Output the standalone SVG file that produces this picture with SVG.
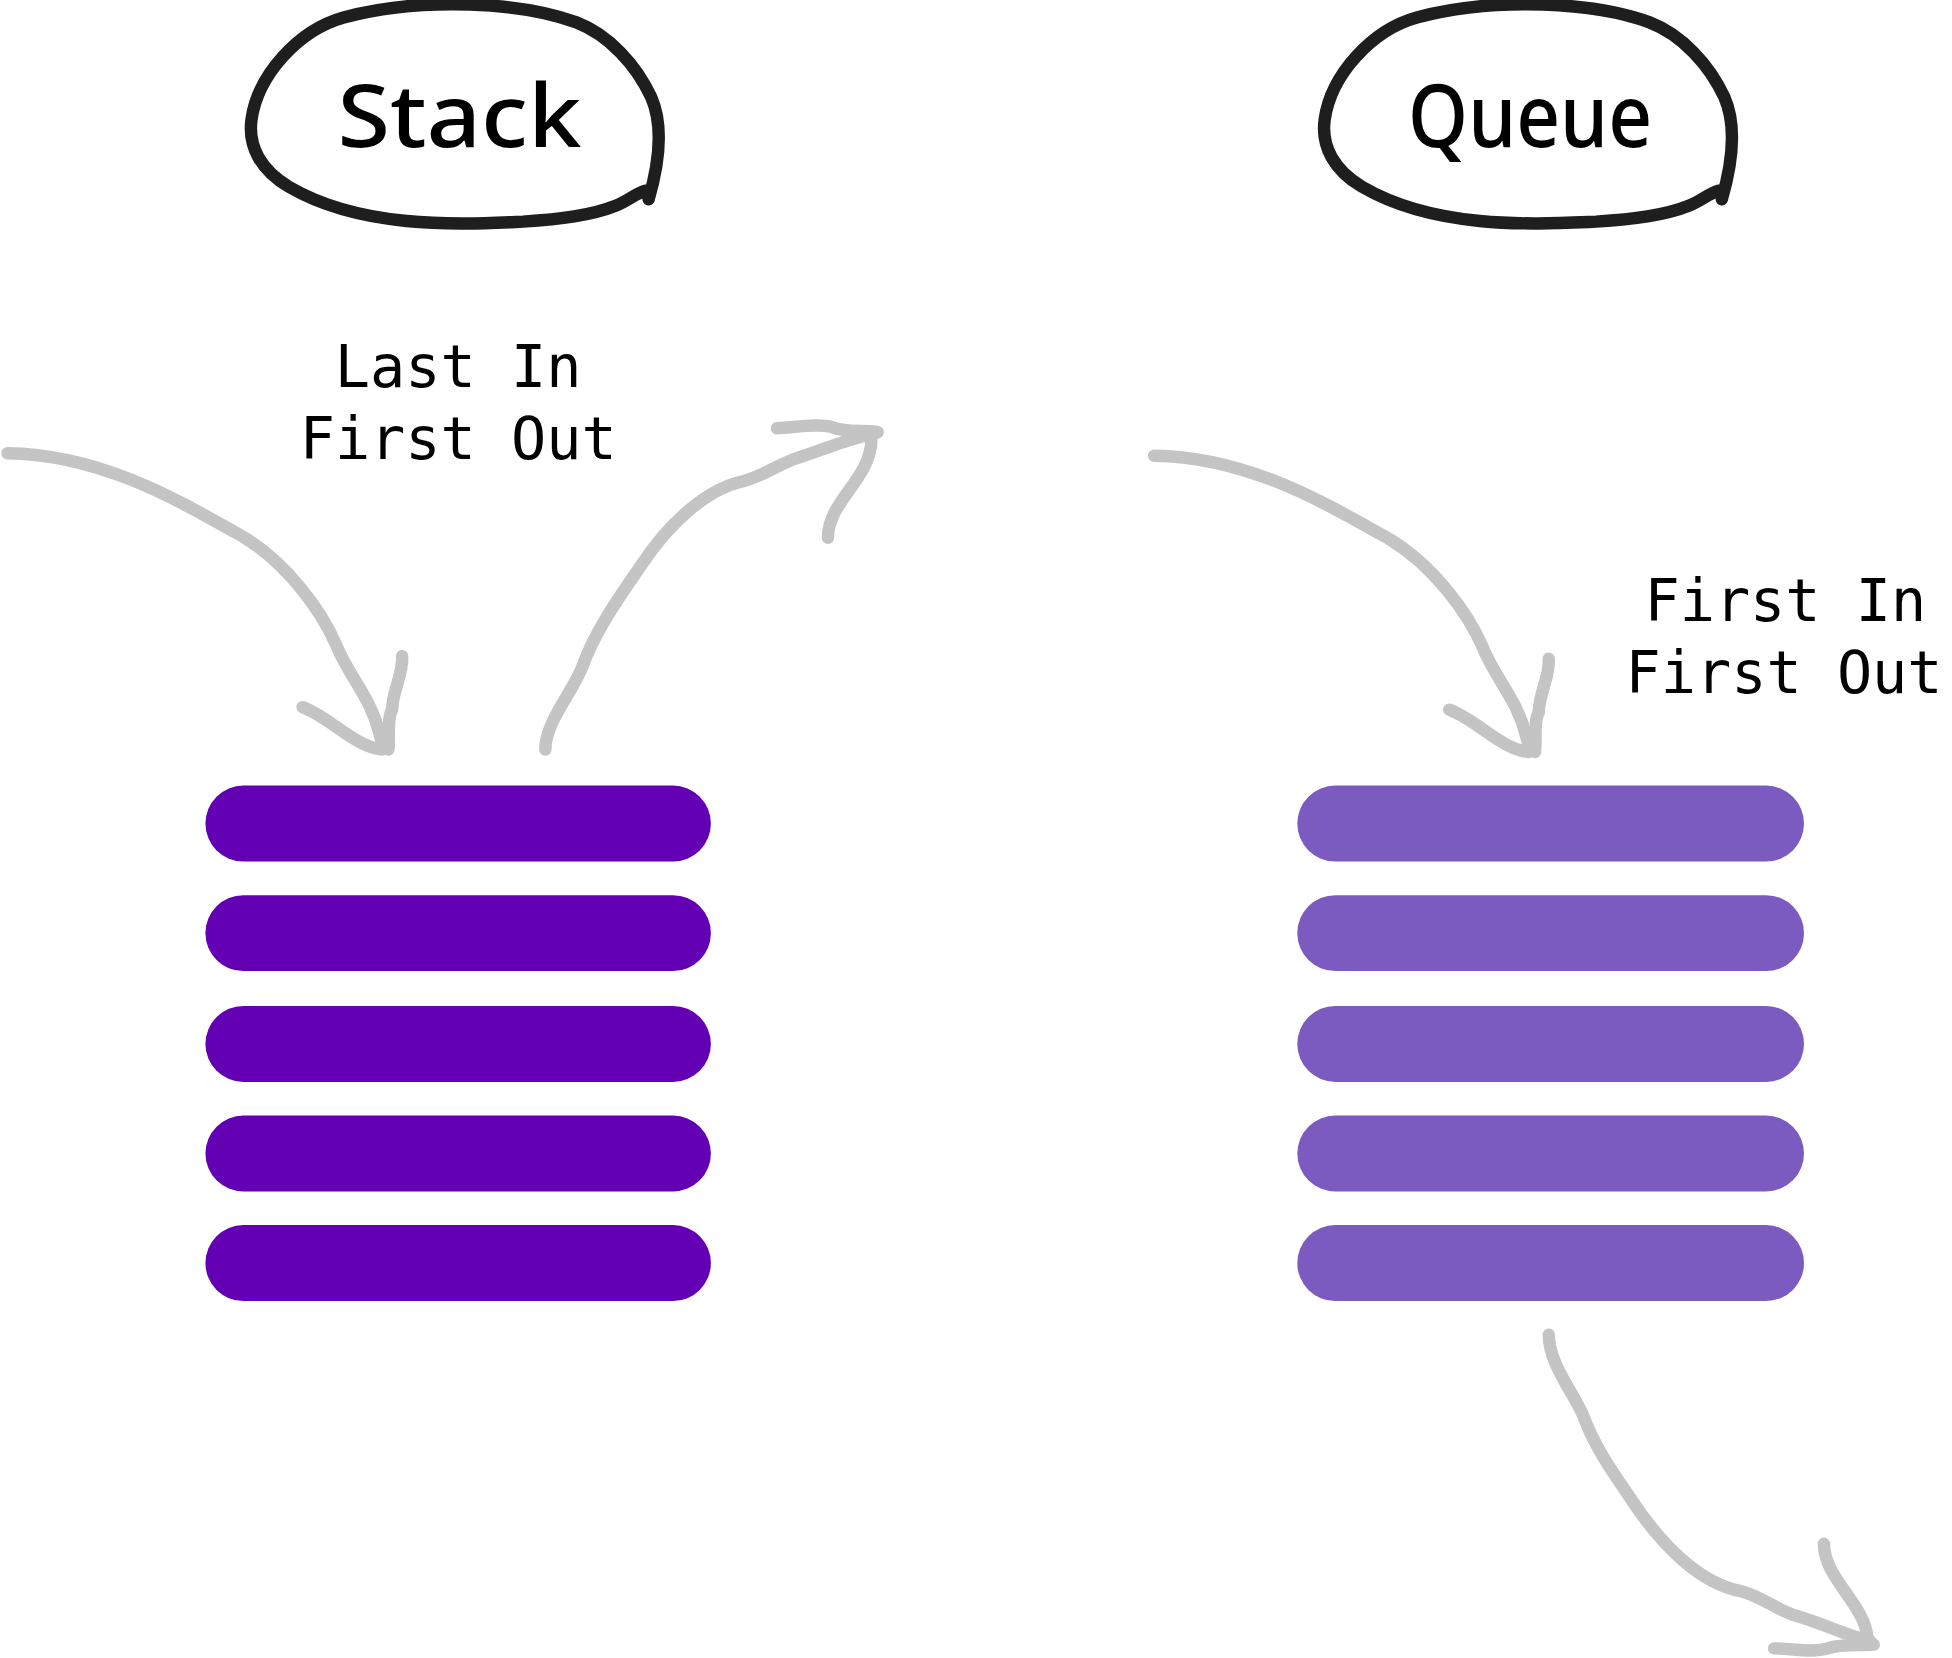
<svg xmlns="http://www.w3.org/2000/svg" width="1952" height="1658" viewBox="0 0 1952 1658">
<style>
.bubble{fill:none;stroke:#1e1e1e;stroke-width:10;stroke-linecap:round;stroke-linejoin:round}
.title{font-family:"Noto Sans","Open Sans",sans-serif;font-size:70px;font-weight:500;fill:#000;text-anchor:middle}
.mono{font-family:"DejaVu Sans Mono","Liberation Mono",monospace;font-size:47px;fill:#000;text-anchor:middle}
.arrow{fill:none;stroke:#c4c4c4;stroke-width:10;stroke-linecap:round;stroke-linejoin:round}
.sbar{fill:#6400b3}
.qbar{fill:#7b5bbf}
</style>
<defs>
<path id="bubblePath" d="M521,160 C528,136 534,103 523,78 C511,52 489,28 463,18 C420,2 340,-3 276,14 C240,24 207,60 202,96 C199,118 210,137 232,150 C292,185 372,180 420,178 C450,176 475,173 495,165 C505,161 511,155 519,153"/>
</defs>
<rect width="1952" height="1658" fill="#fff"/>
<g transform="scale(1.245)">
<g id="stack-title">
<use href="#bubblePath" class="bubble"/>
<text class="title" x="369" y="118" textLength="196" lengthAdjust="spacingAndGlyphs">Stack</text>
</g>
<g id="queue-title">
<use href="#bubblePath" class="bubble" transform="translate(862,0)"/>
<text class="title" x="1229" y="118" textLength="196" lengthAdjust="spacingAndGlyphs">Queue</text>
</g>
<g id="lifo-label">
<text class="mono" x="368" y="311">Last In</text>
<text class="mono" x="368" y="369">First Out</text>
</g>
<g id="fifo-label">
<text class="mono" x="1434" y="499">First In</text>
<text class="mono" x="1433" y="557">First Out</text>
</g>
<g id="stack">
<rect class="sbar" x="165" y="631" width="406" height="61" rx="30.5"/>
<rect class="sbar" x="165" y="719" width="406" height="61" rx="30.5"/>
<rect class="sbar" x="165" y="808" width="406" height="61" rx="30.5"/>
<rect class="sbar" x="165" y="896" width="406" height="61" rx="30.5"/>
<rect class="sbar" x="165" y="984" width="406" height="61" rx="30.5"/>
</g>
<g id="queue">
<rect class="qbar" x="1042" y="631" width="407" height="61" rx="30.5"/>
<rect class="qbar" x="1042" y="719" width="407" height="61" rx="30.5"/>
<rect class="qbar" x="1042" y="808" width="407" height="61" rx="30.5"/>
<rect class="qbar" x="1042" y="896" width="407" height="61" rx="30.5"/>
<rect class="qbar" x="1042" y="984" width="407" height="61" rx="30.5"/>
</g>
<g id="connectors">
<g id="stack-in">
<path class="arrow" d="M6,364 C80,365 140,400 195,431 C230,452 258,490 270,518 C281,545 298,560 305,590 L308,601"/>
<path class="arrow" d="M243,568 C265,576 285,600 307,602"/>
<path class="arrow" d="M323,527 C324,542 315,555 315,570 C311,576 313,590 312,602"/>
</g>
<g id="stack-out">
<path class="arrow" d="M438,602 C438,580 460,556 468,535 C478,506 500,476 515,454 C540,416 570,393 595,387 C610,384 625,373 640,368 C670,358 680,353 703,348"/>
<path class="arrow" d="M624,344 C640,343 658,340 668,343 C680,348 694,345 705,347"/>
<path class="arrow" d="M665,432 C665,402 700,385 700,352"/>
</g>
<g id="queue-in" transform="translate(921,2)">
<path class="arrow" d="M6,364 C80,365 140,400 195,431 C230,452 258,490 270,518 C281,545 298,560 305,590 L308,601"/>
<path class="arrow" d="M243,568 C265,576 285,600 307,602"/>
<path class="arrow" d="M323,527 C324,542 315,555 315,570 C311,576 313,590 312,602"/>
</g>
<g id="queue-out">
<path class="arrow" d="M1244,1072 C1244,1096 1265,1120 1272,1138 C1282,1165 1298,1186 1310,1204 C1335,1242 1366,1272 1398,1278 C1412,1281 1426,1292 1440,1297 C1468,1305 1480,1313 1502,1318"/>
<path class="arrow" d="M1465,1240 C1465,1268 1498,1288 1500,1316"/>
<path class="arrow" d="M1425,1324 C1440,1324 1455,1328 1468,1324 C1480,1320 1494,1322 1505,1321"/>
</g>
</g>
</g>
</svg>
